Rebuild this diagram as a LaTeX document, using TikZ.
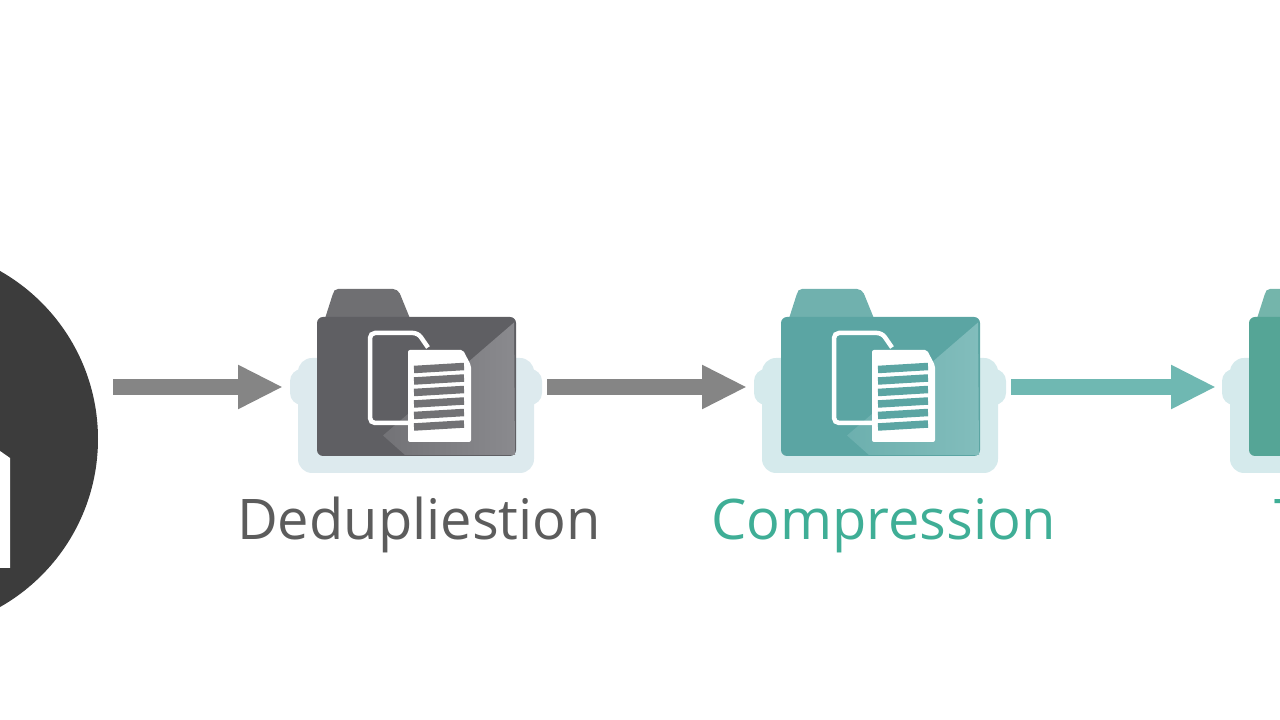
\documentclass[tikz,border=0pt]{standalone}
\usepackage{fontspec}
\setmainfont{Open Sans}
\usetikzlibrary{arrows.meta,positioning}

\definecolor{diskgrey}{HTML}{3C3C3C}
\definecolor{arrowgrey}{HTML}{858585}
\definecolor{arrowteal}{HTML}{6FB8B2}
\definecolor{traygrey}{HTML}{DDEAEE}
\definecolor{trayteal}{HTML}{D5EAEC}
\definecolor{bodygrey}{HTML}{5F5F63}
\definecolor{lightgrey}{HTML}{8A8A8E}
\definecolor{tabgrey}{HTML}{6F6F72}
\definecolor{stripegrey}{HTML}{727275}
\definecolor{bodyteal}{HTML}{5BA5A3}
\definecolor{lightteal}{HTML}{82BDBC}
\definecolor{tabteal}{HTML}{70B1AE}
\definecolor{bodygreen}{HTML}{55A596}
\definecolor{tabgreen}{HTML}{74B5AB}
\definecolor{textgrey}{HTML}{5C5C5C}
\definecolor{textteal}{HTML}{3FAE96}

\tikzset{
	disk/.style={circle, fill=diskgrey, minimum size=386pt, inner sep=0pt, outer sep=0pt},
	ear/.style={rectangle, rounded corners=12pt, minimum width=252pt, minimum height=36pt, inner sep=0pt, outer sep=0pt},
	tray/.style={rectangle, rounded corners=14pt, minimum width=236pt, minimum height=115pt, inner sep=0pt, outer sep=0pt},
	labeltext/.style={anchor=base, font=\fontsize{56}{60}\selectfont},
	flow/.style={-{Triangle[length=45pt, width=41pt]}, line width=16pt},
	pics/folderpic/.style n args={4}{code={
		\fill[#3] (-91,97) -- (-83,122) [rounded corners=5pt] -- (-83,126.5) -- (-18,126.5) [sharp corners] -- (-6,97) -- cycle;
		\fill[#1, rounded corners=6pt] (-99,98.5) rectangle (100,-40.5);
		\shade[left color=#2!45!#1, right color=#2] (98,93) -- (-33,-20) -- (-11,-39.5) -- (99,-39.5) -- cycle;
		\draw[white, line width=4.5pt, rounded corners=5pt] (12,68) -- (2,82.5) -- (-46,82.5) -- (-46,-7.5) -- (-8,-7.5);
		\fill[white, rounded corners=2pt] (-8,65.5) -- (47,65.5) -- (55,50) -- (55,-26.5) -- (-8,-26.5) -- cycle;
		\foreach \i in {0,...,5}
			\draw[#4, line width=7.5pt] (-2,46-\i*11.5) -- (48,49-\i*11.5);
	}},
}

\begin{document}
\begin{tikzpicture}[x=1pt, y=1pt, node distance=464pt, on grid]
	\useasboundingbox (0,0) rectangle (1280,720);
	\clip (0,0) rectangle (1280,720);

	\node[disk] (disk) at (-95,281) {};
	\fill[white] (-40,152) -- (10,152) -- (10,262) -- (0,269) -- (-40,269) -- cycle;

	% first folder
	\node[ear, fill=traygrey] (dedupear) at (416,333) {};
	\node[tray, fill=traygrey] (deduptray) at ([yshift=-28.5pt]dedupear) {};
	\pic at (deduptray) {folderpic={bodygrey}{lightgrey}{tabgrey}{stripegrey}};
	\node[labeltext, text=textgrey] (deduplabel) at ([xshift=3pt, yshift=-124.5pt]deduptray) {Dedupliestion};

	% second folder
	\node[ear, fill=trayteal] (compear) [right=of dedupear] {};
	\node[tray, fill=trayteal] (comptray) at ([yshift=-28.5pt]compear) {};
	\pic at (comptray) {folderpic={bodyteal}{lightteal}{tabteal}{bodyteal}};
	\node[labeltext, text=textteal] (complabel) at ([xshift=3.5pt, yshift=-124.5pt]comptray) {Compression};

	% third folder, cut by the page
	\node[ear, fill=trayteal] (lastear) [right=of compear, xshift=4pt] {};
	\node[tray, fill=trayteal] (lasttray) at ([yshift=-28.5pt]lastear) {};
	\pic at (lasttray) {folderpic={bodygreen}{bodygreen}{tabgreen}{bodygreen}};
	\node[labeltext, text=textteal] (lastlabel) at ([xshift=-58pt, yshift=-124.5pt]lasttray) {T};

	\draw[flow, arrowgrey, shorten <=15pt, shorten >=7pt] (disk.east |- dedupear) -- (dedupear.west);
	\draw[flow, arrowgrey, shorten <=5pt, shorten >=7pt] (dedupear.east) -- (compear.west);
	\draw[flow, arrowteal, shorten <=5pt, shorten >=6pt] (compear.east) -- (lastear.west);
\end{tikzpicture}
\end{document}
